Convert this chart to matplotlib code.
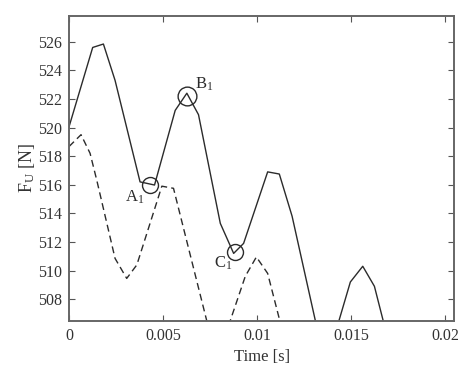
import numpy as np
import matplotlib
matplotlib.use("Agg")
import matplotlib.pyplot as plt

plt.rcParams['font.family'] = ['Liberation Serif', 'DejaVu Serif']
plt.rcParams['mathtext.fontset'] = 'custom'
plt.rcParams['mathtext.rm'] = 'Liberation Serif'
plt.rcParams['mathtext.it'] = 'Liberation Serif:italic'

# solid curve (points below 506.5 are clipped)
t_solid = [0.0, 0.00126, 0.00183, 0.00245, 0.00378, 0.00396, 0.00455, 0.00565,
           0.00627, 0.00689, 0.00805, 0.00876, 0.00929, 0.01057, 0.01119,
           0.01187, 0.0137, 0.01432, 0.01497, 0.01563, 0.01625, 0.0172]
f_solid = [520.05, 525.6, 525.84, 523.3, 516.2, 516.15, 515.98, 521.2,
           522.4, 520.9, 513.3, 511.2, 511.9, 516.9, 516.75,
           513.8, 503.0, 506.3, 509.2, 510.3, 508.9, 504.0]

# dashed curve
t_dash = [0.0, 0.00064, 0.00112, 0.00148, 0.00245, 0.00307, 0.00361, 0.00494,
          0.00556, 0.0079, 0.00858, 0.00938, 0.00997, 0.01057, 0.0118]
f_dash = [518.67, 519.5, 518.2, 516.3, 510.85, 509.45, 510.4, 515.9,
          515.75, 503.5, 506.5, 509.6, 510.95, 509.8, 503.5]

# marked points
pt_t = [0.0043, 0.00627, 0.00885]
pt_f = [515.95, 522.2, 511.3]
pt_size = [11.5, 13.5, 11.5]
pt_names = ['A$_1$', 'B$_1$', 'C$_1$']
lab_t = [0.00352, 0.00722, 0.0082]
lab_f = [515.1, 523.0, 510.5]

col = '#2b2b2b'
fig = plt.figure(figsize=(4.74, 3.80), dpi=100)
ax = fig.add_axes([0.1456, 0.1563, 0.8128, 0.8016])

ax.plot(t_solid, f_solid, '-', color=col, lw=1.0)
ax.plot(t_dash, f_dash, '--', color=col, lw=1.0, dashes=(5, 3))
for t, f, s in zip(pt_t, pt_f, pt_size):
    ax.plot(t, f, 'o', ms=s, mfc='none', mec=col, mew=1.0)
for t, f, n in zip(lab_t, lab_f, pt_names):
    ax.text(t, f, n, fontsize=12, ha='center', va='center', color=col)

ax.set_xlim(0, 0.0205)
ax.set_ylim(506.5, 527.8)
ax.set_xticks([0, 0.005, 0.01, 0.015, 0.02])
ax.set_xticklabels(['0', '0.005', '0.01', '0.015', '0.02'])
ax.set_yticks(np.arange(508, 527, 2))
ax.tick_params(direction='in', top=True, right=True, labelsize=11.5,
               colors='#333333', length=4, width=0.8, pad=5)
ax.tick_params(axis='both', which='both', color='#555555')
for sp in ax.spines.values():
    sp.set_color('#666666')
    sp.set_linewidth(1.4)

ax.set_xlabel('Time [s]', fontsize=12, color='#333333', labelpad=4)
ax.set_ylabel('F$_\\mathrm{U}$ [N]', fontsize=13, color='#333333', labelpad=1)

fig.savefig('out.png', dpi=100)
